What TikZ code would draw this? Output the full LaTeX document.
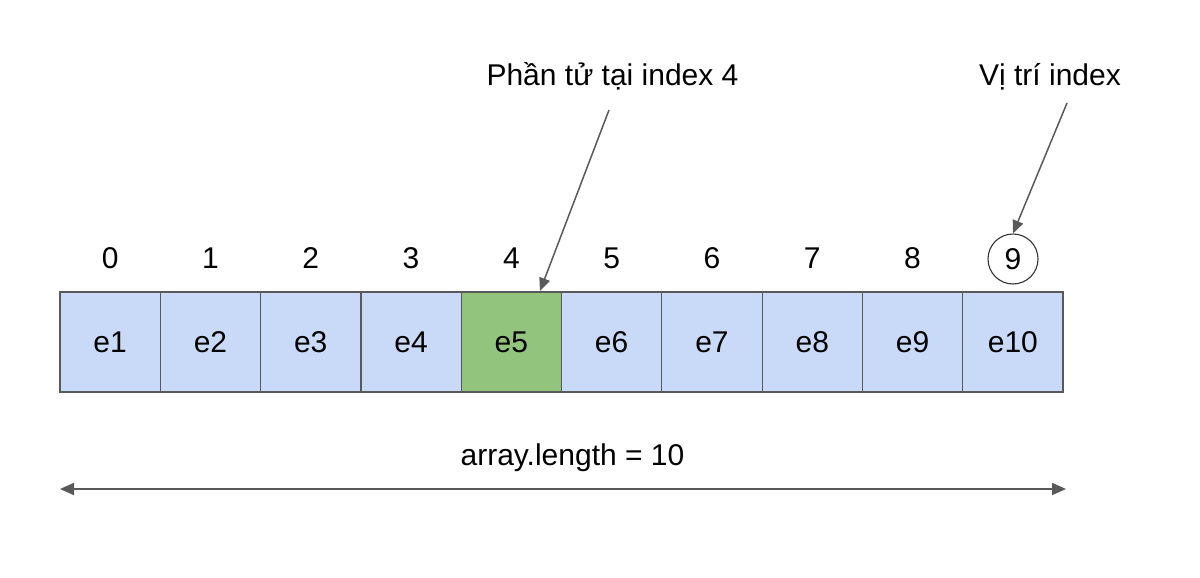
\documentclass[tikz,border=0pt]{standalone}
\usepackage{fontspec}
\setmainfont{Liberation Sans}
\usetikzlibrary{arrows.meta,calc}
\definecolor{cellblue}{HTML}{C9DAF8}
\definecolor{cellgreen}{HTML}{93C47D}
\definecolor{edgegray}{HTML}{595959}
\begin{document}
\begin{tikzpicture}[x=1pt,y=-1pt,
  every node/.style={font=\fontsize{30}{36}\selectfont},
  cell/.style={draw=edgegray,line width=1.2pt,fill=cellblue,minimum width=100.3pt,minimum height=100pt,inner sep=0pt},
  hicell/.style={cell,fill=cellgreen},
  idx/.style={inner sep=0pt},
  ring/.style={draw=black!80,line width=1.1pt,circle,minimum size=50pt,inner sep=0pt},
  pointer/.style={draw=edgegray,line width=1.5pt,-{Triangle[length=13pt,width=11pt]}},
  span/.style={draw=edgegray,line width=1.8pt,{Triangle[length=14pt,width=12pt]}-{Triangle[length=14pt,width=12pt]}}
]
\useasboundingbox (0,0) rectangle (1200,578);
\foreach \i in {1,...,10}{
  \pgfmathsetmacro{\cx}{60+100.3*(\i-0.5)}
  \ifnum\i=5
    \node[hicell] (e\i) at (\cx,342) {e\i};
  \else
    \node[cell] (e\i) at (\cx,342) {e\i};
  \fi
}
\foreach \i in {0,...,8}{
  \pgfmathsetmacro{\cx}{60+100.3*(\i+0.5)}
  \node[idx] (n\i) at (\cx,258.5) {\i};
}
\node[ring] (c9) at (1013,259) {9};
\node[anchor=base] (t1) at (612.5,85) {Phần tử tại index 4};
\node[anchor=base] (t2) at (1050,85) {Vị trí index};
\node[anchor=base] (t3) at (572.5,465) {array.length = 10};
\coordinate (a1) at (609,110);
\coordinate (b1) at (540,291);
\coordinate (a2) at (1067,103);
\draw[pointer] (a1) -- (b1);
\draw[pointer] (a2) -- (c9.north);
\coordinate (l1) at (60,489);
\coordinate (l2) at (1066,489);
\draw[span] (l1) -- (l2);
\end{tikzpicture}
\end{document}
